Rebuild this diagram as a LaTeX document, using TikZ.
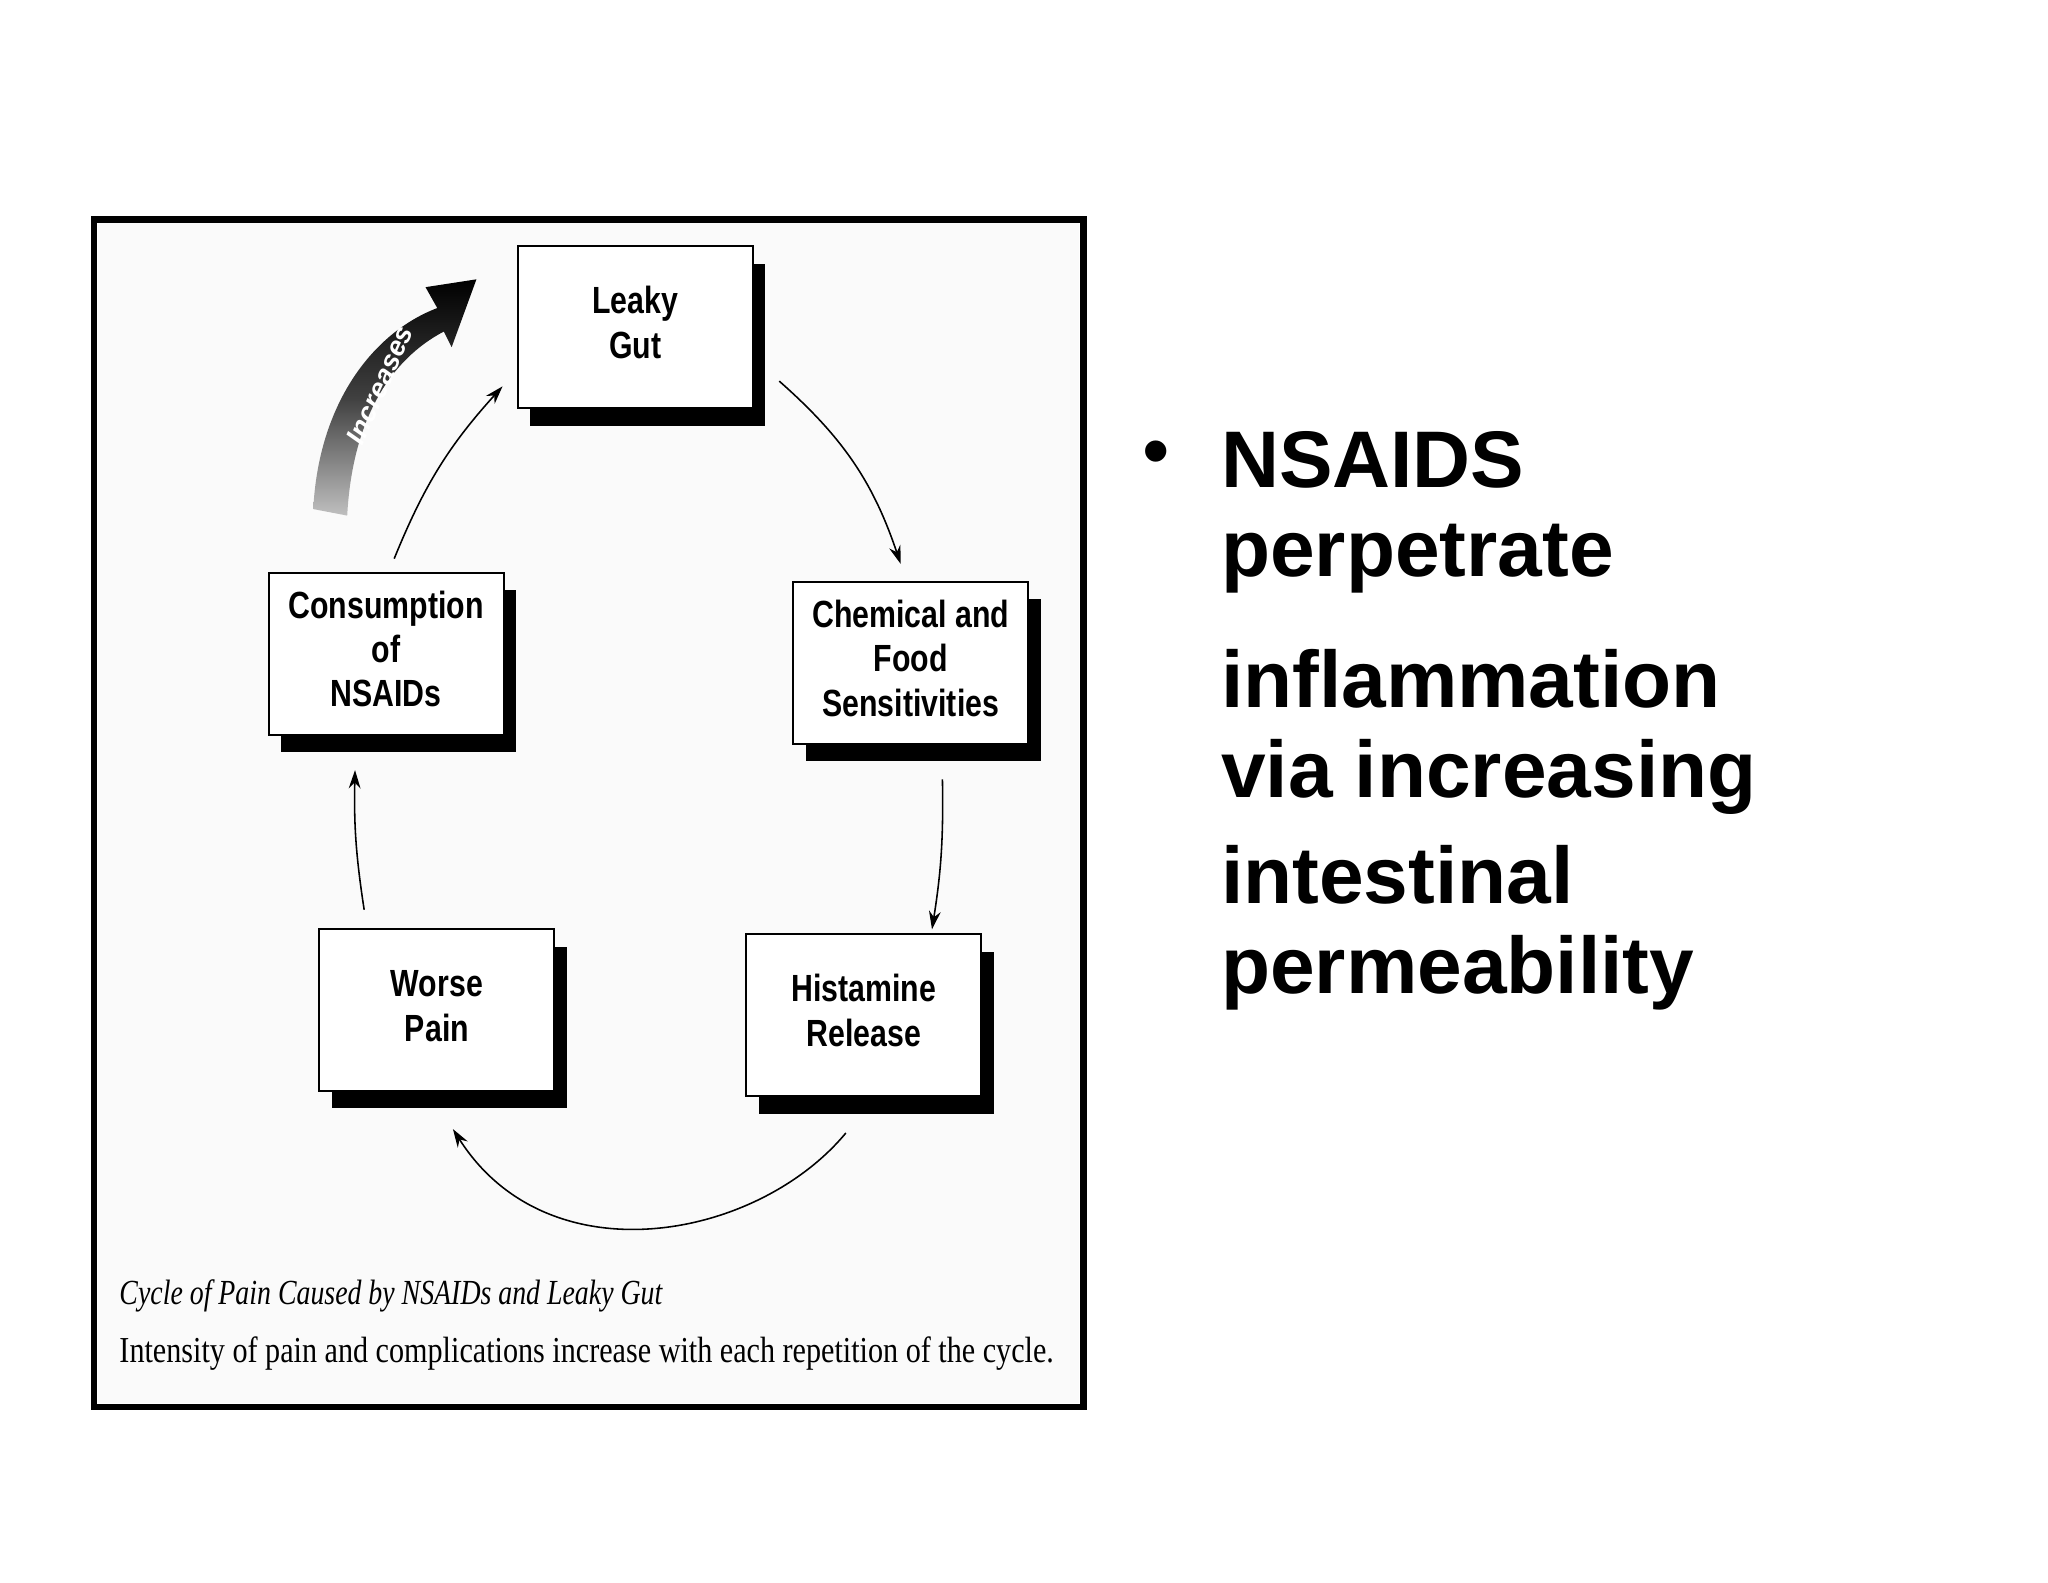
\documentclass[tikz,border=0pt]{standalone}
\usepackage{fontspec}
\setmainfont{Liberation Sans}
\newfontfamily\serifc{Liberation Serif}
\usetikzlibrary{arrows.meta}
\begin{document}
\begin{tikzpicture}[x=1pt,y=-1pt,
  cbox/.style={draw,line width=1.5pt,fill=white,minimum width=180pt,minimum height=124pt,anchor=north west,align=center,font=\fontsize{29}{34}\selectfont\bfseries,inner sep=0pt},
  shadowbox/.style={fill=black,minimum width=180pt,minimum height=124pt,anchor=north west,inner sep=0pt},
  cyc/.style={-{Stealth[length=14pt,width=9pt]},line width=1.2pt},
  rt/.style={anchor=west,font=\fontsize{61.5}{61.5}\selectfont\bfseries}]
\useasboundingbox (0,0) rectangle (1569,1212);
\fill[white] (0,0) rectangle (1569,1212);
\draw[line width=5pt] (72,168) rectangle (830,1078);
\fill[gray!4] (75,171) rectangle (827,1075);
\foreach \x/\y in {396/188,607/445,571/715,244/711,205/438}
  \node[shadowbox] at (\x+10,\y+14) {};
\node[cbox] (lg) at (396,188) {\scalebox{0.8}[1]{\begin{tabular}{c}Leaky\\Gut\end{tabular}}};
\node[cbox] (cf) at (607,445) {\scalebox{0.8}[1]{\begin{tabular}{c}Chemical and\\Food\\Sensitivities\end{tabular}}};
\node[cbox] (hr) at (571,715) {\scalebox{0.8}[1]{\begin{tabular}{c}Histamine\\Release\end{tabular}}};
\node[cbox] (wp) at (244,711) {\scalebox{0.8}[1]{\begin{tabular}{c}Worse\\Pain\end{tabular}}};
\node[cbox] (cn) at (205,438) {\scalebox{0.8}[1]{\begin{tabular}{c}Consumption\\of\\NSAIDs\end{tabular}}};
\coordinate (a1) at (597,292); \coordinate (b1) at (690,432);
\coordinate (a2) at (722,597); \coordinate (b2) at (714,712);
\coordinate (a3) at (648,868); \coordinate (b3) at (347,865);
\coordinate (a4) at (279,697); \coordinate (b4) at (272,590);
\coordinate (a5) at (302,428); \coordinate (b5) at (385,296);
\draw[cyc] (a1) to[bend left=15] (b1);
\draw[cyc] (a2) to[bend left=5] (b2);
\draw[cyc] (a3) .. controls (580,950) and (420,980) .. (b3);
\draw[cyc] (a4) to[bend left=5] (b4);
\draw[cyc] (a5) to[bend left=10] (b5);
\shade[bottom color=gray!50,top color=black,middle color=black!75]
  (240,390) .. controls (244,310) and (285,255) .. (335,236)
  -- (326,220) -- (365,214) -- (346,266) -- (340,254)
  .. controls (300,275) and (270,320) .. (266,395) -- cycle;
\node[rotate=66,text=white,font=\fontsize{21}{21}\selectfont\bfseries\itshape] (inc) at (291,295) {Increases};
\node[anchor=west,font=\serifc\fontsize{27}{27}\selectfont\itshape] (cap1) at (88,993) {\scalebox{0.79}[1]{Cycle of Pain Caused by NSAIDs and Leaky Gut}};
\node[anchor=west,font=\serifc\fontsize{28}{28}\selectfont] (cap2) at (88,1037) {\scalebox{0.825}[1]{Intensity of pain and complications increase with each repetition of the cycle.}};
\node[anchor=west,font=\fontsize{60}{60}\selectfont] (bul) at (872,352) {•};
\node[rt] (t1) at (932,352) {NSAIDS};
\node[rt] (t2) at (932,428) {perpetrate};
\node[rt] (t3) at (932,520) {inflammation};
\node[rt] (t4) at (932,595) {via increasing};
\node[rt] (t5) at (932,670) {intestinal};
\node[rt] (t6) at (932,745) {permeability};
\end{tikzpicture}
\end{document}
